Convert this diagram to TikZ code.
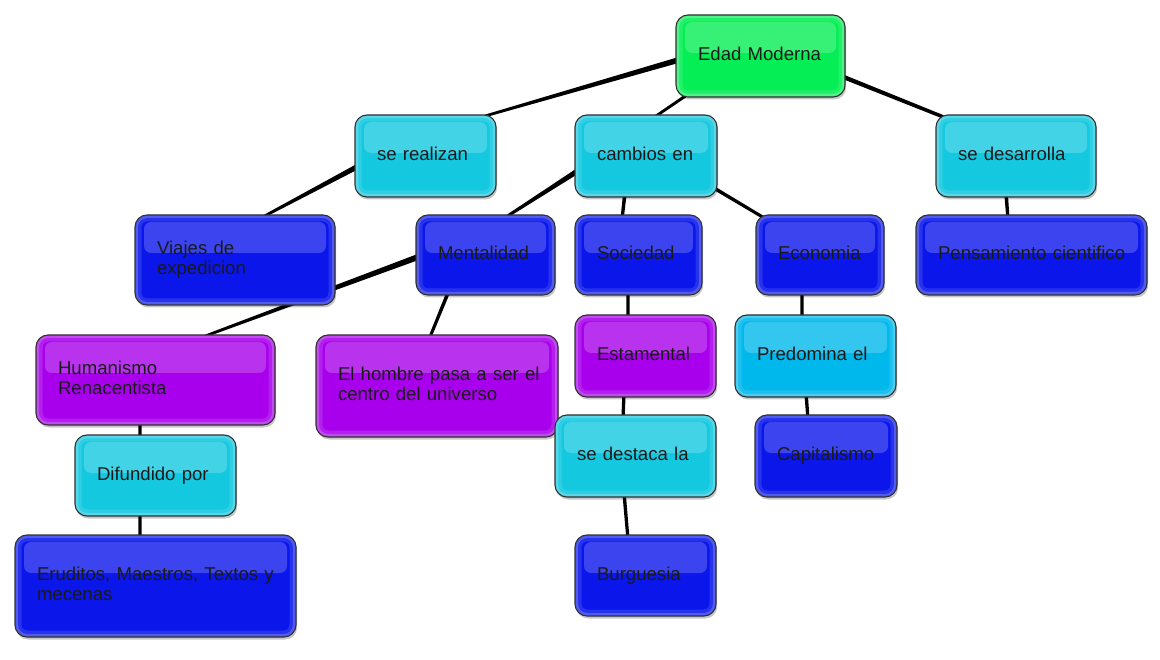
\documentclass[tikz,border=0pt]{standalone}
\usepackage{fontspec}
\setmainfont{Liberation Sans}
\usetikzlibrary{calc,shadows}
\pgfdeclarelayer{bg}
\pgfsetlayers{bg,main}
\definecolor{cgreen}{HTML}{05EE55}
\definecolor{ccyan}{HTML}{14C8E0}
\definecolor{csky}{HTML}{00B8EC}
\definecolor{cblue}{HTML}{0A16EA}
\definecolor{cpurple}{HTML}{A800EC}
\definecolor{bordc}{HTML}{303030}
\definecolor{txtc}{HTML}{1A1A1A}
\newcommand\mys{\rule[-4.6pt]{0pt}{18.6pt}}
\newcommand\mylink[4]{\fill[black] let \p1=(#1), \p2=(#2), \n1={atan2(\y2-\y1,\x2-\x1)}, \n2={\n1+90} in ($(\p1)+(\n2:#3)$) -- ($(\p2)+(\n2:#4)$) -- ($(\p2)-(\n2:#4)$) -- ($(\p1)-(\n2:#3)$) -- cycle;}
\tikzset{
  gbox/.style={draw=bordc, line width=1.1pt, rounded corners=12pt, fill=#1,
    inner xsep=22pt, inner ysep=0pt, align=left, text=txtc,
    font=\fontsize{18.6pt}{20pt}\selectfont,
    drop shadow={shadow xshift=1.2pt, shadow yshift=-2.5pt, opacity=0.22, fill=black},
    path picture={
      \fill[white, opacity=0.2, rounded corners=7pt]
        ([xshift=9pt,yshift=-7pt]path picture bounding box.north west) rectangle
        ([xshift=-9pt,yshift=-38pt]path picture bounding box.north east);
      \draw[white, opacity=0.12, line width=13pt, rounded corners=12pt]
        (path picture bounding box.south west) rectangle (path picture bounding box.north east);
      \draw[white, opacity=0.2, line width=6pt, rounded corners=12pt]
        (path picture bounding box.south west) rectangle (path picture bounding box.north east);
    }},
}
\begin{document}
\begin{tikzpicture}[x=1pt, y=-1pt]
\useasboundingbox (0,0) rectangle (1160,660);

\node[gbox=cgreen, text width=125pt, minimum height=82pt] (edad) at (760.5,56) {\mbox{\mys Edad Moderna}};
\node[gbox=ccyan, text width=97pt, minimum height=82pt] (real) at (425.5,156) {\mbox{\mys se realizan}};
\node[gbox=ccyan, text width=98pt, minimum height=82pt] (camb) at (646,156) {\mbox{\mys cambios en}};
\node[gbox=ccyan, text width=116pt, minimum height=82pt] (desa) at (1016,156) {\mbox{\mys se desarrolla}};
\node[gbox=cblue, text width=156pt, minimum height=90pt] (viaj) at (235,260) {\mbox{\mys Viajes de}\\\mbox{\mys expedicion}};
\node[gbox=cblue, text width=95pt, minimum height=80pt] (ment) at (485.5,255) {\mbox{\mys Mentalidad}};
\node[gbox=cblue, text width=83pt, minimum height=80pt] (soc) at (638.5,255) {\mbox{\mys Sociedad}};
\node[gbox=cblue, text width=84pt, minimum height=80pt] (eco) at (820,255) {\mbox{\mys Economia}};
\node[gbox=cblue, text width=187pt, minimum height=80pt] (pens) at (1031.5,255) {\mbox{\mys Pensamiento cientifico}};
\node[gbox=cpurple, text width=195pt, minimum height=90pt] (hum) at (155.5,380) {\mbox{\mys Humanismo}\\\mbox{\mys Renacentista}};
\node[gbox=cpurple, text width=198pt, minimum height=102pt] (homb) at (437,386) {\mbox{\mys El hombre pasa a ser el}\\\mbox{\mys centro del universo}};
\node[gbox=cpurple, text width=97pt, minimum height=82pt] (esta) at (645.5,356) {\mbox{\mys Estamental}};
\node[gbox=csky, text width=117pt, minimum height=82pt] (pred) at (815.5,356) {\mbox{\mys Predomina el}};
\node[gbox=ccyan, text width=117pt, minimum height=81pt] (difu) at (155.5,475.5) {\mbox{\mys Difundido por}};
\node[gbox=ccyan, text width=117pt, minimum height=82pt] (dest) at (635.5,456) {\mbox{\mys se destaca la}};
\node[gbox=cblue, text width=98pt, minimum height=82pt] (capi) at (826,456) {\mbox{\mys Capitalismo}};
\node[gbox=cblue, text width=237pt, minimum height=102pt] (erud) at (155.5,586) {\mbox{\mys Eruditos, Maestros, Textos y}\\\mbox{\mys mecenas}};
\node[gbox=cblue, text width=97pt, minimum height=81pt] (burg) at (645.5,575.5) {\mbox{\mys Burguesia}};

\begin{pgfonlayer}{bg}
\fill[white] (0,0) rectangle (1160,660);
\mylink{[xshift=10pt,yshift=-2pt]edad.west}{[xshift=54.5pt,yshift=-3pt]real.north}{2.9pt}{1.3pt}
\mylink{[xshift=-70pt,yshift=5pt]edad.south}{[xshift=5pt,yshift=-5pt]camb.north}{1.5pt}{1.4pt}
\mylink{[xshift=-7pt,yshift=-19pt]edad.east}{[xshift=-64pt,yshift=-6pt]desa.north}{2.2pt}{1.7pt}
\mylink{[xshift=7pt,yshift=-8.5pt]real.west}{[xshift=25pt,yshift=-4pt]viaj.north}{2.7pt}{1.3pt}
\mylink{[xshift=7pt,yshift=-12.5pt]camb.west}{[xshift=17.5pt,yshift=-4.5pt]ment.north}{2.7pt}{1.4pt}
\mylink{[xshift=-21pt,yshift=5pt]camb.south}{[xshift=-16.5pt,yshift=-5pt]soc.north}{1.8pt}{1.6pt}
\mylink{[xshift=-12pt,yshift=-27pt]camb.east}{[xshift=-50pt,yshift=-7pt]eco.north}{1.8pt}{1.5pt}
\mylink{[xshift=-10pt,yshift=5pt]desa.south}{[xshift=-23.5pt,yshift=-5pt]pens.north}{1.8pt}{1.6pt}
\mylink{[xshift=8pt]ment.west}{[xshift=44.5pt,yshift=-3.5pt]hum.north}{3pt}{1.3pt}
\mylink{[xshift=-36.5pt,yshift=5pt]ment.south}{[xshift=-8pt,yshift=-5pt]homb.north}{1.8pt}{1.5pt}
\mylink{[xshift=-10.5pt,yshift=5pt]soc.south}{[xshift=-17.5pt,yshift=-5pt]esta.north}{1.7pt}{1.6pt}
\mylink{[xshift=-21.5pt,yshift=5pt]esta.south}{[xshift=-12.5pt,yshift=-5pt]dest.north}{1.7pt}{1.6pt}
\mylink{[xshift=-11.5pt,yshift=5pt]dest.south}{[xshift=-17.5pt,yshift=-5pt]burg.north}{1.7pt}{1.6pt}
\mylink{[xshift=-18pt,yshift=5pt]eco.south}{[xshift=-13.5pt,yshift=-5pt]pred.north}{1.7pt}{1.6pt}
\mylink{[xshift=-9.5pt,yshift=5pt]pred.south}{[xshift=-18pt,yshift=-5pt]capi.north}{1.7pt}{1.6pt}
\mylink{[xshift=-15.5pt,yshift=5pt]hum.south}{[xshift=-15.5pt,yshift=-5pt]difu.north}{1.7pt}{1.6pt}
\mylink{[xshift=-15.5pt,yshift=5pt]difu.south}{[xshift=-15.5pt,yshift=-5pt]erud.north}{1.7pt}{1.6pt}
\end{pgfonlayer}
\end{tikzpicture}
\end{document}
